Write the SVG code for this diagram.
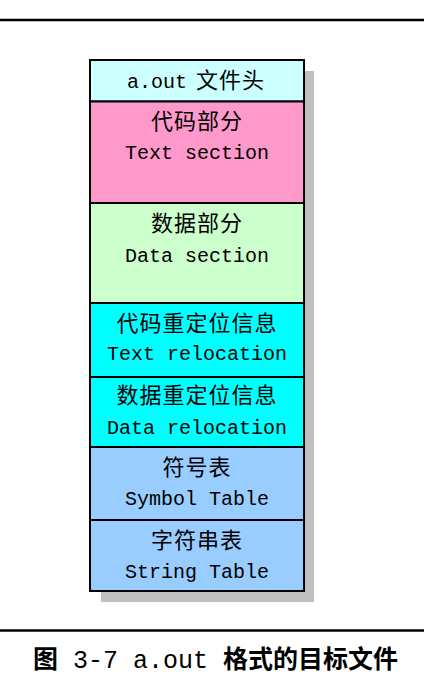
<svg xmlns="http://www.w3.org/2000/svg" width="424" height="695" viewBox="0 0 424 695">
<style>
.sec{stroke:#000;stroke-width:2}
.cjk{font-family:"Noto Sans CJK SC","Noto Sans",sans-serif;font-size:22px;fill:#000;text-anchor:middle;letter-spacing:1px}
.lat{font-family:"Liberation Mono","DejaVu Sans Mono",monospace;font-size:20px;fill:#000;text-anchor:middle}
.rule{stroke:#000;stroke-width:2.5}
</style>
<rect width="424" height="695" fill="#fff"/>
<line class="rule" x1="0" y1="20" x2="424" y2="20"/>
<line class="rule" x1="0" y1="630.5" x2="424" y2="630.5"/>
<rect id="shadow" x="101" y="71" width="213" height="531" fill="#c0c0c0"/>
<g id="header"><rect class="sec" x="90" y="60" width="214" height="41.5" fill="#ccffff"/>
<text x="197" y="88"><tspan class="lat" style="text-anchor:start" x="127">a.out</tspan><tspan class="cjk" style="text-anchor:start" dx="9">文件头</tspan></text></g>
<g id="text-section"><rect class="sec" x="90" y="101.5" width="214" height="101.5" fill="#ff99cc"/>
<text class="cjk" x="197" y="129">代码部分</text><text class="lat" x="197" y="159">Text section</text></g>
<g id="data-section"><rect class="sec" x="90" y="203" width="214" height="100" fill="#ccffcc"/>
<text class="cjk" x="197" y="231">数据部分</text><text class="lat" x="197" y="262">Data section</text></g>
<g id="text-relocation"><rect class="sec" x="90" y="303" width="214" height="74" fill="#00ffff"/>
<text class="cjk" x="197" y="331">代码重定位信息</text><text class="lat" x="197" y="360">Text relocation</text></g>
<g id="data-relocation"><rect class="sec" x="90" y="377" width="214" height="70" fill="#00ffff"/>
<text class="cjk" x="197" y="403">数据重定位信息</text><text class="lat" x="197" y="434">Data relocation</text></g>
<g id="symbol-table"><rect class="sec" x="90" y="447" width="214" height="73" fill="#99ccff"/>
<text class="cjk" x="197" y="475">符号表</text><text class="lat" x="197" y="505">Symbol Table</text></g>
<g id="string-table"><rect class="sec" x="90" y="520" width="214" height="71" fill="#99ccff"/>
<text class="cjk" x="197" y="548">字符串表</text><text class="lat" x="197" y="578">String Table</text></g>
<text id="caption" x="33" y="668" style="font-size:25px"><tspan style="font-family:'Noto Sans CJK SC',sans-serif;font-weight:bold">图</tspan><tspan style="font-family:'Liberation Mono',monospace"> 3-7 a.out </tspan><tspan style="font-family:'Noto Sans CJK SC',sans-serif;font-weight:bold">格式的目标文件</tspan></text>
</svg>
